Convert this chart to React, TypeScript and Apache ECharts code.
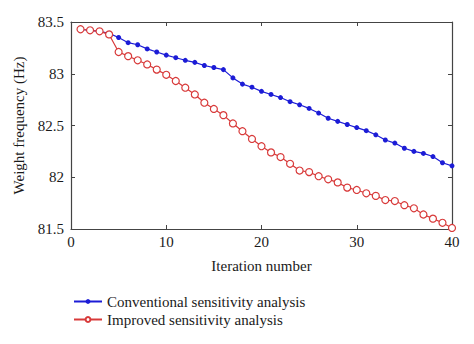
import React, { useEffect, useRef } from "react";
import * as echarts from "echarts";

const iterations = Array.from({ length: 40 }, (_, i) => i + 1);

const conventional = [
  83.43, 83.42, 83.41, 83.39, 83.35, 83.30, 83.28, 83.24, 83.21, 83.18,
  83.155, 83.13, 83.11, 83.08, 83.06, 83.04, 82.96, 82.90, 82.87, 82.83,
  82.80, 82.77, 82.73, 82.70, 82.665, 82.62, 82.57, 82.54, 82.51, 82.48,
  82.45, 82.41, 82.36, 82.33, 82.28, 82.25, 82.23, 82.20, 82.14, 82.11,
];

const improved = [
  83.43, 83.42, 83.41, 83.38, 83.21, 83.17, 83.13, 83.09, 83.04, 82.99,
  82.93, 82.865, 82.80, 82.72, 82.66, 82.60, 82.52, 82.445, 82.37, 82.30,
  82.24, 82.195, 82.13, 82.065, 82.05, 82.01, 81.98, 81.95, 81.90, 81.877,
  81.845, 81.82, 81.78, 81.77, 81.73, 81.70, 81.64, 81.60, 81.56, 81.51,
];

const seriesNames = ["Conventional sensitivity analysis", "Improved sensitivity analysis"];
const xAxisTitle = "Iteration number";
const yAxisTitle = "Weight frequency (Hz)";

const FONT = "'Liberation Serif', 'DejaVu Serif', serif";
const AXIS_COLOR = "#444";
const TEXT_COLOR = "#1a1a1a";

export default function App() {
  const ref = useRef<HTMLDivElement>(null);
  useEffect(() => {
    if (!ref.current) return;
    const chart = echarts.init(ref.current, undefined, { renderer: "svg" });
    const axisCommon = {
      axisLine: { show: true, onZero: false, lineStyle: { color: AXIS_COLOR, width: 1.2 } },
      axisTick: { show: true, inside: true, length: 4, lineStyle: { color: AXIS_COLOR } },
      splitLine: { show: false },
    };
    chart.setOption({
      animation: false,
      backgroundColor: "#fff",
      grid: { left: 71, right: 22, top: 22, bottom: 115, containLabel: false },
      legend: {
        orient: "vertical",
        left: 68,
        top: 289,
        itemWidth: 28,
        itemHeight: 6,
        itemGap: 3,
        textStyle: { fontFamily: FONT, fontSize: 15, color: TEXT_COLOR },
        data: seriesNames,
      },
      xAxis: [
        {
          type: "value",
          min: 0,
          max: 40,
          interval: 10,
          name: xAxisTitle,
          nameLocation: "middle",
          nameGap: 29,
          nameTextStyle: { fontFamily: FONT, fontSize: 15, color: TEXT_COLOR },
          axisLabel: { fontFamily: FONT, fontSize: 15, color: TEXT_COLOR, margin: 5 },
          ...axisCommon,
        },
        {
          type: "value",
          position: "top",
          min: 0,
          max: 40,
          interval: 10,
          axisLabel: { show: false },
          ...axisCommon,
        },
      ],
      yAxis: [
        {
          type: "value",
          min: 81.5,
          max: 83.5,
          interval: 0.5,
          name: yAxisTitle,
          nameLocation: "middle",
          nameGap: 43,
          nameTextStyle: { fontFamily: FONT, fontSize: 15, color: TEXT_COLOR },
          axisLabel: { fontFamily: FONT, fontSize: 15, color: TEXT_COLOR, margin: 7 },
          ...axisCommon,
        },
        {
          type: "value",
          position: "right",
          min: 81.5,
          max: 83.5,
          interval: 0.5,
          axisLabel: { show: false },
          ...axisCommon,
        },
      ],
      series: [
        {
          name: seriesNames[0],
          type: "line",
          data: iterations.map((x, i) => [x, conventional[i]]),
          symbol: "circle",
          symbolSize: 5,
          lineStyle: { color: "#1c1cd6", width: 1.2 },
          itemStyle: { color: "#1c1cd6" },
        },
        {
          name: seriesNames[1],
          type: "line",
          data: iterations.map((x, i) => [x, improved[i]]),
          symbol: "circle",
          symbolSize: 7,
          showAllSymbol: true,
          lineStyle: { color: "#d83a3a", width: 1.2 },
          itemStyle: { color: "#fff", borderColor: "#d83a3a", borderWidth: 1.2 },
        },
      ],
    });
    return () => chart.dispose();
  }, []);
  return (
    <div
      ref={ref}
      style={{ position: "fixed", left: 0, top: 0, width: 474, height: 344 }}
    />
  );
}
